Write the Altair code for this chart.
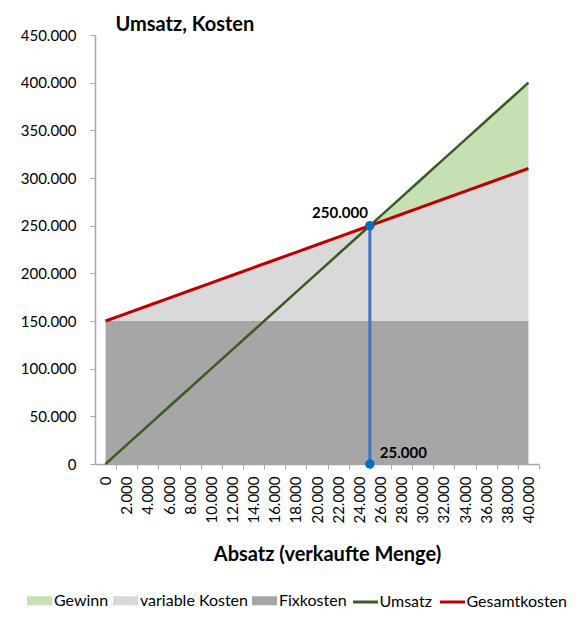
import altair as alt
import pandas as pd

absatz = [0, 2000, 4000, 6000, 8000, 10000, 12000, 14000, 16000, 18000, 20000,
          22000, 24000, 26000, 28000, 30000, 32000, 34000, 36000, 38000, 40000]
umsatz = [0, 20000, 40000, 60000, 80000, 100000, 120000, 140000, 160000, 180000, 200000,
          220000, 240000, 260000, 280000, 300000, 320000, 340000, 360000, 380000, 400000]
fixkosten = [150000, 150000, 150000, 150000, 150000, 150000, 150000, 150000, 150000, 150000, 150000,
             150000, 150000, 150000, 150000, 150000, 150000, 150000, 150000, 150000, 150000]
gesamtkosten = [150000, 158000, 166000, 174000, 182000, 190000, 198000, 206000, 214000, 222000, 230000,
                238000, 246000, 254000, 262000, 270000, 278000, 286000, 294000, 302000, 310000]

# Gewinnzone ab Break-even
gewinn_absatz = [25000, 26000, 28000, 30000, 32000, 34000, 36000, 38000, 40000]
gewinn_kosten = [250000, 254000, 262000, 270000, 278000, 286000, 294000, 302000, 310000]
gewinn_umsatz = [250000, 260000, 280000, 300000, 320000, 340000, 360000, 380000, 400000]

be_menge = [25000]
be_wert = [250000]

flaechen = ['Gewinn', 'variable Kosten', 'Fixkosten']
flaechen_farben = ['#C5E0B4', '#D9D9D9', '#A6A6A6']
linien = ['Umsatz', 'Gesamtkosten']
linien_farben = ['#3B5A24', '#C00000']

german = "replace(format(datum.value, ','), ',', '.')"

x_enc = alt.X('absatz:Q',
              scale=alt.Scale(domain=[-1000, 41000], nice=False, zero=False),
              axis=alt.Axis(values=absatz, labelExpr=german, labelAngle=-90,
                            tickOffset=10.57, labelOffset=-10.57, labelPadding=7,
                            labelFontSize=15, tickSize=5, grid=False,
                            titleFontSize=20, titleFontWeight='bold',
                            titleX=232, titleY=96, titleBaseline='alphabetic'),
              title='Absatz (verkaufte Menge)')
y_enc = alt.Y('wert:Q',
              scale=alt.Scale(domain=[0, 450000], nice=False),
              axis=alt.Axis(values=[0, 50000, 100000, 150000, 200000, 250000, 300000, 350000, 400000, 450000],
                            labelExpr=german, labelPadding=14, labelFontSize=15, tickSize=5, grid=False,
                            titleAngle=0, titleAlign='left', titleBaseline='alphabetic',
                            titleX=20, titleY=-5, titleFontSize=20, titleFontWeight='bold'),
              title='Umsatz, Kosten')

fill_enc = lambda: alt.Fill('reihe:N',
                            scale=alt.Scale(domain=flaechen, range=flaechen_farben),
                            legend=alt.Legend(orient='none', legendX=-68, legendY=553,
                                              direction='horizontal', title=None,
                                              symbolType='M-1,-0.36H1V0.36H-1Z', symbolSize=625,
                                              symbolStrokeWidth=0, labelFontSize=16, labelOffset=2,
                                              columnPadding=4, padding=0, labelLimit=0))
stroke_enc = lambda: alt.Stroke('reihe:N',
                                scale=alt.Scale(domain=linien, range=linien_farben),
                                legend=alt.Legend(orient='none', legendX=256.5, legendY=553,
                                                  direction='horizontal', title=None,
                                                  symbolType='stroke', symbolSize=625,
                                                  symbolStrokeWidth=3, labelFontSize=16, labelOffset=0,
                                                  columnPadding=1, padding=0, labelLimit=0))

df_var = pd.DataFrame({'absatz': absatz, 'wert': fixkosten, 'wert2': gesamtkosten, 'reihe': 'variable Kosten'})
df_fix = pd.DataFrame({'absatz': absatz, 'wert': [0] * len(absatz), 'wert2': fixkosten, 'reihe': 'Fixkosten'})
df_gew = pd.DataFrame({'absatz': gewinn_absatz, 'wert': gewinn_kosten, 'wert2': gewinn_umsatz, 'reihe': 'Gewinn'})
df_ums = pd.DataFrame({'absatz': absatz, 'wert': umsatz, 'reihe': 'Umsatz'})
df_ges = pd.DataFrame({'absatz': absatz, 'wert': gesamtkosten, 'reihe': 'Gesamtkosten'})
df_be = pd.DataFrame({'absatz': be_menge, 'wert': [0], 'wert2': be_wert})
df_pts = pd.DataFrame({'absatz': be_menge + be_menge, 'wert': [0] + be_wert})

var_area = alt.Chart(df_var).mark_area(opacity=1).encode(x=x_enc, y=y_enc, y2='wert2:Q', fill=fill_enc())
fix_area = alt.Chart(df_fix).mark_area(opacity=1).encode(x=x_enc, y=y_enc, y2='wert2:Q', fill=fill_enc())
gew_area = alt.Chart(df_gew).mark_area(opacity=1).encode(x=x_enc, y=y_enc, y2='wert2:Q', fill=fill_enc())

ums_line = alt.Chart(df_ums).mark_line(strokeWidth=2.5).encode(x=x_enc, y=y_enc, stroke=stroke_enc())
ges_line = alt.Chart(df_ges).mark_line(strokeWidth=3).encode(x=x_enc, y=y_enc, stroke=stroke_enc())

be_rule = alt.Chart(df_be).mark_rule(color='#4472C4', strokeWidth=3).encode(x=x_enc, y=y_enc, y2='wert2:Q')
be_pts = alt.Chart(df_pts).mark_circle(size=90, color='#0070C0', opacity=1).encode(x=x_enc, y=y_enc)

label_calc = "replace(format(datum.wert2, ','), ',', '.')"
lbl_top = alt.Chart(df_be).transform_calculate(label=label_calc).mark_text(
    align='right', baseline='alphabetic', dx=-2, dy=-8, fontSize=15, fontWeight='bold', color='black'
).encode(x=x_enc, y=alt.Y('wert2:Q'), text='label:N')
lbl_bottom = alt.Chart(df_be).transform_calculate(
    label="replace(format(datum.absatz, ','), ',', '.')"
).mark_text(
    align='left', baseline='alphabetic', dx=10, dy=-6, fontSize=15, fontWeight='bold', color='black'
).encode(x=x_enc, y=y_enc, text='label:N')

chart = alt.layer(
    var_area, fix_area, gew_area, ums_line, ges_line, be_rule, be_pts, lbl_top, lbl_bottom
).resolve_scale(fill='shared', stroke='shared').properties(
    width=444,
    height=429,
    autosize=alt.AutoSizeParams(type='none'),
    padding={'left': 87, 'top': 27, 'right': 33, 'bottom': 146}
).configure(
    font='Lato'
).configure_view(
    stroke=None
).configure_axis(
    domainColor='#A6A6A6',
    tickColor='#A6A6A6',
    labelColor='black',
    titleColor='black',
    domainWidth=1.5
).configure_legend(
    labelColor='black'
)

chart.save("out.html", embed_options={"renderer": "svg", "actions": False})
